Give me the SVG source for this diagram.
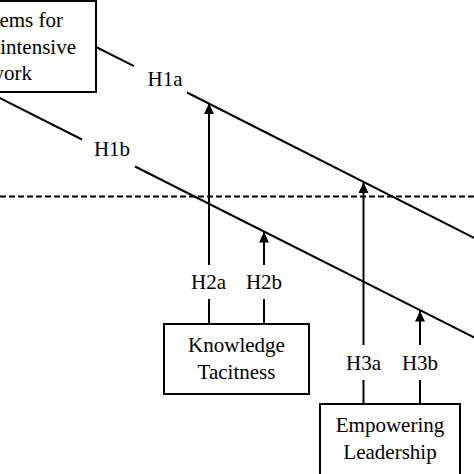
<svg xmlns="http://www.w3.org/2000/svg" width="474" height="474" viewBox="0 0 474 474">
<style>
.box{fill:#fff;stroke:#000;stroke-width:2}
.ln{fill:none;stroke:#000;stroke-width:2}
.t{font-family:"Liberation Serif","Times New Roman",serif;font-size:21px;fill:#000}
.c{text-anchor:middle}
</style>
<defs>
<marker id="ah" markerUnits="userSpaceOnUse" markerWidth="10" markerHeight="11" refX="5" refY="0" orient="auto-start-reverse" viewBox="0 0 10 11">
<path d="M0,11 L5,0 L10,11 Z" fill="#000"/>
</marker>
</defs>
<rect width="474" height="474" fill="#fff"/>
<g id="connectors">
<line class="ln" x1="0" y1="196.5" x2="474" y2="196.5" stroke-dasharray="6 3"/>
<line class="ln" x1="96" y1="47" x2="134" y2="66.2"/>
<line class="ln" x1="187" y1="92.5" x2="480" y2="240.8"/>
<line class="ln" x1="-12" y1="92" x2="82" y2="139.5"/>
<line class="ln" x1="135" y1="166.5" x2="480" y2="340.5"/>
<line class="ln" x1="209" y1="265" x2="209" y2="104"/>
<line class="ln" x1="209" y1="299" x2="209" y2="324"/>
<line class="ln" x1="264" y1="265" x2="264" y2="232"/>
<line class="ln" x1="264" y1="299" x2="264" y2="324"/>
<line class="ln" x1="363.5" y1="345" x2="363.5" y2="183"/>
<line class="ln" x1="363.5" y1="380" x2="363.5" y2="404"/>
<line class="ln" x1="420" y1="345" x2="420" y2="311"/>
<line class="ln" x1="420" y1="380" x2="420" y2="404"/>
<path d="M204,114 L209,103.5 L214,114 Z"/>
<path d="M259,242.5 L264,232 L269,242.5 Z"/>
<path d="M358.5,193 L363.5,182.5 L368.5,193 Z"/>
<path d="M415,321.5 L420,311 L425,321.5 Z"/>
<text class="t c" x="165" y="86">H1a</text>
<text class="t c" x="112" y="156">H1b</text>
<text class="t c" x="208.5" y="289">H2a</text>
<text class="t c" x="264" y="289">H2b</text>
<text class="t c" x="363.5" y="370">H3a</text>
<text class="t c" x="420" y="370">H3b</text>
</g>
<g id="hr-systems">
<rect class="box" x="-60" y="1" width="156" height="91"/>
<text class="t" x="63" y="27" text-anchor="end">ems for</text>
<text class="t" x="76" y="54" text-anchor="end">intensive</text>
<text class="t" x="32" y="80" text-anchor="end">work</text>
</g>
<g id="knowledge-tacitness">
<rect class="box" x="164" y="324" width="145" height="70"/>
<text class="t c" x="236.5" y="352">Knowledge</text>
<text class="t c" x="236.5" y="379">Tacitness</text>
</g>
<g id="empowering-leadership">
<rect class="box" x="320" y="404" width="140" height="90"/>
<text class="t c" x="390" y="432">Empowering</text>
<text class="t c" x="390" y="459">Leadership</text>
</g>
</svg>
